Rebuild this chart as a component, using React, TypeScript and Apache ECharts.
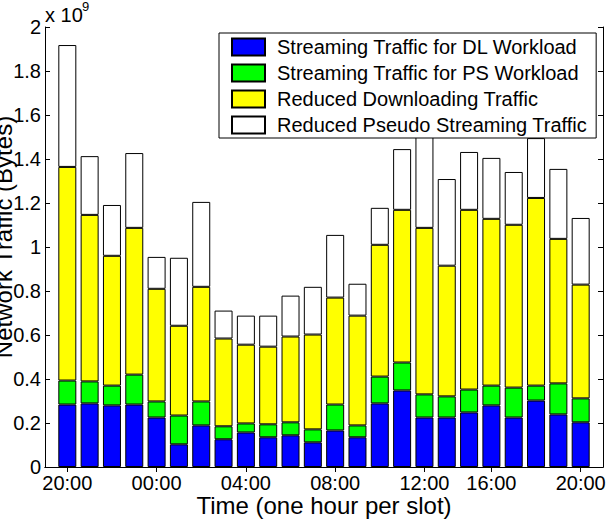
import React, { useRef, useEffect } from 'react';
import * as echarts from 'echarts';

// one slot per hour, 24 slots; slot 0 and 25 are the empty margins of the axis
const slotCount = 24;
const tickSlots = [1, 5, 9, 13, 17, 20, 24];
const tickLabels = ['20:00', '00:00', '04:00', '08:00', '12:00', '16:00', '20:00'];

// values in units of 1e9 bytes
const dlStreaming = [
    0.284, 0.289, 0.280, 0.284, 0.225, 0.103, 0.189, 0.126, 0.157, 0.135, 0.144, 0.112,
    0.166, 0.135, 0.289, 0.348, 0.225, 0.225, 0.248, 0.280, 0.225, 0.302, 0.239, 0.203
];
const psStreaming = [
    0.109, 0.100, 0.090, 0.136, 0.073, 0.131, 0.109, 0.059, 0.041, 0.059, 0.059, 0.059,
    0.118, 0.054, 0.122, 0.127, 0.105, 0.096, 0.104, 0.090, 0.136, 0.068, 0.141, 0.109
];
const reducedDownloading = [
    0.971, 0.757, 0.590, 0.667, 0.512, 0.408, 0.521, 0.399, 0.358, 0.353, 0.390, 0.431,
    0.486, 0.499, 0.599, 0.694, 0.757, 0.594, 0.817, 0.758, 0.740, 0.853, 0.657, 0.517
];
const reducedPseudo = [
    0.554, 0.267, 0.231, 0.340, 0.145, 0.309, 0.386, 0.127, 0.132, 0.141, 0.186, 0.217,
    0.285, 0.145, 0.168, 0.276, 0.444, 0.394, 0.263, 0.277, 0.240, 0.272, 0.318, 0.303
];

const seriesNames = [
    'Streaming Traffic for DL Workload',
    'Streaming Traffic for PS Workload',
    'Reduced Downloading Traffic',
    'Reduced Pseudo Streaming Traffic'
];
const seriesColors = ['#0000ff', '#00ff00', '#ffff00', '#ffffff'];

const FONT = 'Liberation Sans, Arial, Helvetica, sans-serif';

const categories = Array.from({ length: slotCount + 2 }, (_, i) => String(i));
const padSlots = (values: number[]) => ['-', ...values, '-'];
const isTick = (index: number) => tickSlots.includes(index);
const tickLabel = (index: number) => {
    const k = tickSlots.indexOf(index);
    return k === -1 ? '' : tickLabels[k];
};

const App: React.FC = () => {
    const chartRef = useRef<HTMLDivElement>(null);

    useEffect(() => {
        if (!chartRef.current) return;
        const chart = echarts.init(chartRef.current, null, { renderer: 'svg' });

        const xBase = {
            type: 'category',
            data: categories,
            boundaryGap: false,
            axisLine: { show: true, lineStyle: { color: '#000', width: 1 } },
            splitLine: { show: false }
        };
        const yBase = {
            type: 'value',
            min: 0,
            max: 2,
            interval: 0.2,
            axisLine: { show: true, lineStyle: { color: '#000', width: 1 } },
            axisTick: { show: true, inside: true, length: 5, lineStyle: { color: '#000' } },
            splitLine: { show: false }
        };

        chart.setOption({
            animation: false,
            backgroundColor: '#fff',
            textStyle: { fontFamily: FONT },
            grid: { left: 45, top: 27, right: 4, bottom: 52, containLabel: false, outerBoundsMode: 'none' },
            legend: {
                orient: 'vertical',
                left: 219,
                top: 33,
                padding: [4, 9, 3, 12],
                itemWidth: 33,
                itemHeight: 17,
                itemGap: 6,
                icon: 'rect',
                backgroundColor: '#fff',
                borderColor: '#000',
                borderWidth: 1,
                borderRadius: 0,
                selectedMode: false,
                textStyle: {
                    fontFamily: FONT,
                    fontSize: 20,
                    color: '#000',
                    lineHeight: 17,
                    padding: [0, 0, 0, 7]
                },
                data: seriesNames
            },
            xAxis: [
                {
                    ...xBase,
                    position: 'bottom',
                    name: 'Time (one hour per slot)',
                    nameLocation: 'middle',
                    nameGap: 27,
                    nameMoveOverlap: false,
                    nameTextStyle: { fontFamily: FONT, fontSize: 24, lineHeight: 22, color: '#000' },
                    axisTick: {
                        show: true, inside: true, length: 5,
                        interval: (i: number) => isTick(i),
                        lineStyle: { color: '#000' }
                    },
                    axisLabel: {
                        show: true,
                        interval: (i: number) => isTick(i),
                        formatter: (_v: string, i: number) => tickLabel(i),
                        margin: 7,
                        fontFamily: FONT,
                        fontSize: 20,
                        lineHeight: 18,
                        color: '#000'
                    }
                },
                {
                    ...xBase,
                    position: 'top',
                    axisTick: {
                        show: true, inside: true, length: 5,
                        interval: (i: number) => isTick(i),
                        lineStyle: { color: '#000' }
                    },
                    axisLabel: { show: false }
                }
            ],
            yAxis: [
                {
                    ...yBase,
                    position: 'left',
                    name: 'Network Traffic (Bytes)',
                    nameLocation: 'middle',
                    nameGap: 30,
                    nameMoveOverlap: false,
                    nameTextStyle: {
                        fontFamily: FONT,
                        fontSize: 24,
                        color: '#000',
                        padding: [0, 0, 0, 20]
                    },
                    axisLabel: {
                        margin: 4,
                        fontFamily: FONT,
                        fontSize: 20,
                        color: '#000',
                        formatter: (v: number) => String(+v.toFixed(1))
                    }
                },
                {
                    ...yBase,
                    position: 'right',
                    axisLabel: { show: false }
                }
            ],
            graphic: [
                {
                    type: 'text',
                    left: 45,
                    top: 5,
                    style: { text: 'x 10', fontFamily: FONT, fontSize: 20, fill: '#000' }
                },
                {
                    type: 'text',
                    left: 82,
                    top: 0,
                    style: { text: '9', fontFamily: FONT, fontSize: 13, fill: '#000' }
                }
            ],
            series: [dlStreaming, psStreaming, reducedDownloading, reducedPseudo].map((values, k) => ({
                name: seriesNames[k],
                type: 'bar',
                stack: 'traffic',
                xAxisIndex: 0,
                yAxisIndex: 0,
                barWidth: 18,
                data: padSlots(values),
                itemStyle: { color: seriesColors[k], borderColor: '#000', borderWidth: 1 }
            }))
        });

        return () => {
            chart.dispose();
        };
    }, []);

    return (
        <div style={{ position: 'absolute', left: 0, top: 0 }}>
            <div ref={chartRef} style={{ width: '607px', height: '519px' }} />
        </div>
    );
};

export default App;
